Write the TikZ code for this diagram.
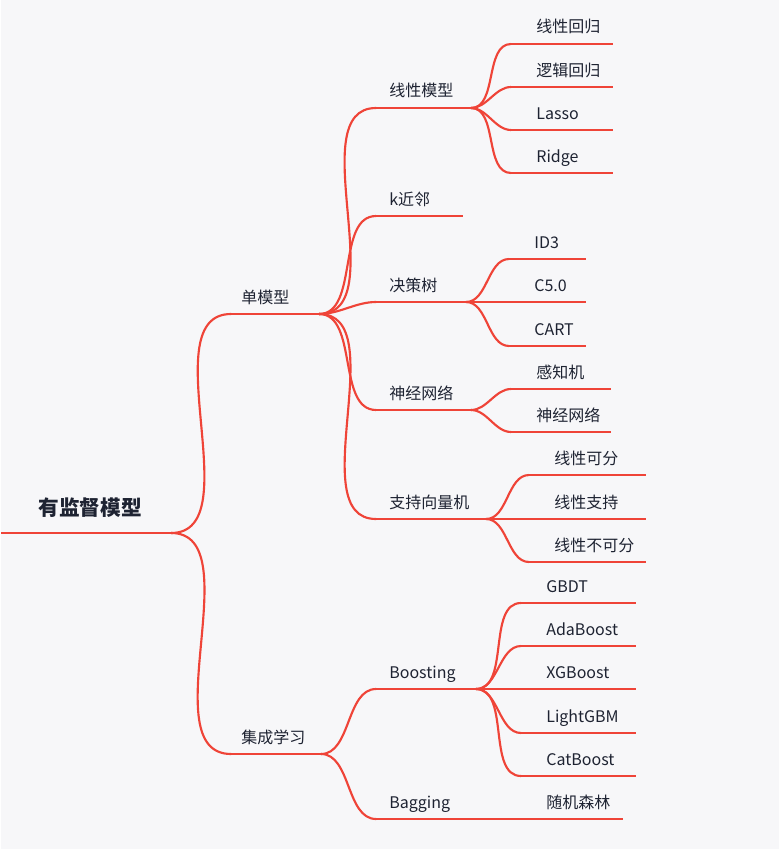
\documentclass[tikz,border=0pt]{standalone}
\usepackage{fontspec}
\setmainfont{Noto Sans CJK SC}
\usetikzlibrary{positioning}
\definecolor{bgcol}{RGB}{247,247,249}
\definecolor{linecol}{RGB}{239,68,56}
\definecolor{txtcol}{RGB}{30,35,50}

% underline item: name, x start, x end, y, text (text offset in \mmoff)
\newcommand{\mmoff}{10}
\newcommand{\mmitem}[5]{%
  \coordinate (#1-s) at (#2,#4);
  \coordinate (#1-e) at (#3,#4);
  \draw[edge] (#1-s) -- (#1-e);
  \node[lbl] (#1) at (#2+\mmoff,#4-11) {#5};
}

\begin{document}
\begin{tikzpicture}[x=0.75pt,y=-0.75pt,
    edge/.style={linecol, line width=1.6pt},
    lbl/.style={anchor=base west, inner sep=0pt, text=txtcol, font=\fontsize{12}{14}\selectfont},
    link/.style={edge, out=0, in=180, looseness=0.9}
]
\fill[bgcol] (0,0) rectangle (778,849);

% ROOT
\coordinate (root-s) at (0,533);
\coordinate (root-e) at (170,533);
\draw[edge] (root-s) -- (root-e);
\node[anchor=base west, inner sep=0pt, text=txtcol, font=\fontsize{15.5}{18}\selectfont\bfseries] (root) at (37,515) {有监督模型};

% LEVEL 1
\mmitem{single}{230}{318}{314}{单模型}
\mmitem{ens}{230}{320}{754}{集成学习}
\foreach \c in {single,ens} \draw[link] (root-e) to (\c-s);

% LEVEL 2
\renewcommand{\mmoff}{13}
\mmitem{lin}{375}{470}{108}{线性模型}
\mmitem{knn}{375}{462}{216}{k近邻}
\mmitem{tree}{375}{465}{302}{决策树}
\mmitem{nn}{375}{470}{410}{神经网络}
\mmitem{svm}{375}{485}{519}{支持向量机}
\foreach \c in {lin,knn,tree,nn,svm} \draw[link] (single-e) to (\c-s);

\mmitem{boost}{375}{475}{689}{Boosting}
\mmitem{bag}{375}{520}{819}{Bagging}
\foreach \c in {boost,bag} \draw[link] (ens-e) to (\c-s);

% LEAVES
\renewcommand{\mmoff}{25}
\foreach \n/\y/\t in {a/44/线性回归, b/87/逻辑回归, c/130/Lasso, d/173/Ridge} {
  \mmitem{lin\n}{510}{612}{\y}{\t}
  \draw[link] (lin-e) to (lin\n-s);
}
\foreach \n/\y/\t in {a/259/ID3, b/302/C5.0, c/346/CART} {
  \mmitem{tree\n}{508}{585}{\y}{\t}
  \draw[link] (tree-e) to (tree\n-s);
}
\foreach \n/\y/\t in {a/389/感知机, b/432/神经网络} {
  \mmitem{nn\n}{510}{610}{\y}{\t}
  \draw[link] (nn-e) to (nn\n-s);
}
\foreach \n/\y/\t in {a/475/线性可分, b/519/线性支持, c/562/线性不可分} {
  \mmitem{svm\n}{528}{645}{\y}{\t}
  \draw[link] (svm-e) to (svm\n-s);
}
\foreach \n/\y/\t in {a/603/GBDT, b/646/AdaBoost, c/689/XGBoost, d/733/LightGBM, e/776/CatBoost} {
  \mmitem{boost\n}{520}{635}{\y}{\t}
  \draw[link] (boost-e) to (boost\n-s);
}
\mmitem{baga}{520}{622}{819}{随机森林}
\draw[edge] (bag-e) -- (baga-s);

\end{tikzpicture}
\end{document}
